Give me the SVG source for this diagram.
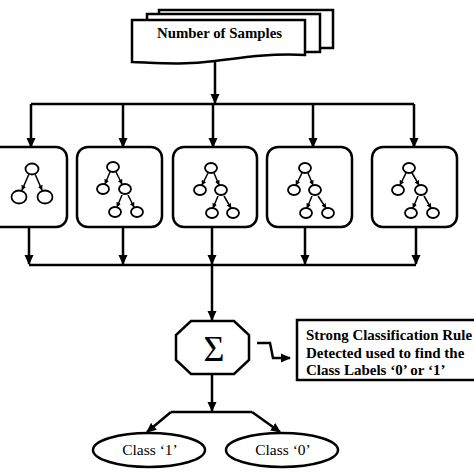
<svg xmlns="http://www.w3.org/2000/svg" width="474" height="474" viewBox="0 0 474 474">
<style>
.s{fill:none;stroke:#000;stroke-width:2.5}
.b{fill:#fff;stroke:#000;stroke-width:2.5}
.n{fill:#fff;stroke:#000;stroke-width:1.8}
.e{fill:none;stroke:#000;stroke-width:1.5}
.t{font-family:"Liberation Serif","Times New Roman",serif;fill:#000}
</style>
<defs>
<marker id="a" markerUnits="userSpaceOnUse" markerWidth="10" markerHeight="10" refX="9" refY="5" orient="auto"><path d="M0,0.5 L10,5 L0,9.5 Z" fill="#000"/></marker>
<marker id="m" markerUnits="userSpaceOnUse" markerWidth="5" markerHeight="5" refX="4.5" refY="2.5" orient="auto"><path d="M0,0 L5,2.5 L0,5 Z" fill="#000"/></marker>
</defs>
<rect width="474" height="474" fill="#fff"/>
<g id="samples">
<path class="b" d="M159,10 H333 V48 H159 Z"/>
<path class="b" d="M147,14 H320 V52 H147 Z"/>
<path class="b" d="M132,20 H305 V55 C275,53 245,57 215,61 C185,65 160,63 132,62 Z"/>
<text class="t" x="157" y="38" font-size="15" font-weight="bold" textLength="125" lengthAdjust="spacingAndGlyphs">Number of Samples</text>
</g>
<g id="connectors">
<path class="s" d="M215,61 V103" marker-end="url(#a)"/>
<path class="s" d="M31,104 H414"/>
<path class="s" d="M31,104 V147" marker-end="url(#a)"/>
<path class="s" d="M123,104 V147" marker-end="url(#a)"/>
<path class="s" d="M213,104 V147" marker-end="url(#a)"/>
<path class="s" d="M313,104 V147" marker-end="url(#a)"/>
<path class="s" d="M414,104 V147" marker-end="url(#a)"/>
<path class="s" d="M29,227 V264" marker-end="url(#a)"/>
<path class="s" d="M123,227 V264" marker-end="url(#a)"/>
<path class="s" d="M212,227 V264" marker-end="url(#a)"/>
<path class="s" d="M305,227 V264" marker-end="url(#a)"/>
<path class="s" d="M416,227 V264" marker-end="url(#a)"/>
<path class="s" d="M29,265 H416"/>
<path class="s" d="M212,265 V320" marker-end="url(#a)"/>
<path class="s" d="M212,374 V411" marker-end="url(#a)"/>
<path class="s" d="M171,412 H252"/>
<path class="s" d="M171,412 L147,432" marker-end="url(#a)"/>
<path class="s" d="M252,412 L280,432" marker-end="url(#a)"/>
<path class="s" d="M257,343 H270 L273,358 H290" marker-end="url(#a)"/>
</g>
<g id="tree1">
<rect class="b" x="-18" y="147" width="85" height="80" rx="11"/>
<path class="e" d="M29,174 L22,190" marker-end="url(#m)"/>
<path class="e" d="M35,174 L42,190" marker-end="url(#m)"/>
<ellipse class="n" cx="32" cy="169" rx="6.5" ry="5.5"/>
<ellipse class="n" cx="19" cy="197" rx="7.5" ry="6.5"/>
<ellipse class="n" cx="45" cy="197" rx="7.5" ry="6.5"/>
</g>
<g id="tree2">
<rect class="b" x="77" y="147" width="85" height="80" rx="11"/>
<path class="e" d="M110,172 L105,184" marker-end="url(#m)"/>
<path class="e" d="M116,172 L122,184" marker-end="url(#m)"/>
<path class="e" d="M122,195 L117,207" marker-end="url(#m)"/>
<path class="e" d="M128,195 L134,207" marker-end="url(#m)"/>
<ellipse class="n" cx="113" cy="167" rx="6" ry="5"/>
<ellipse class="n" cx="103" cy="189" rx="6" ry="5"/>
<ellipse class="n" cx="125" cy="189" rx="6" ry="5"/>
<ellipse class="n" cx="115" cy="212" rx="6" ry="5"/>
<ellipse class="n" cx="137" cy="212" rx="6" ry="5"/>
</g>
<g id="tree3">
<rect class="b" x="173" y="147" width="84" height="80" rx="11"/>
<path class="e" d="M208,173 L202,185" marker-end="url(#m)"/>
<path class="e" d="M214,173 L219,185" marker-end="url(#m)"/>
<path class="e" d="M218,196 L213,208" marker-end="url(#m)"/>
<path class="e" d="M224,196 L231,208" marker-end="url(#m)"/>
<ellipse class="n" cx="211" cy="168" rx="6" ry="5"/>
<ellipse class="n" cx="200" cy="190" rx="6" ry="5"/>
<ellipse class="n" cx="221" cy="190" rx="6" ry="5"/>
<ellipse class="n" cx="212" cy="213" rx="6" ry="5"/>
<ellipse class="n" cx="233" cy="213" rx="6" ry="5"/>
</g>
<g id="tree4">
<rect class="b" x="267" y="147" width="85" height="80" rx="11"/>
<path class="e" d="M302,173 L296,185" marker-end="url(#m)"/>
<path class="e" d="M308,173 L313,185" marker-end="url(#m)"/>
<path class="e" d="M312,196 L307,208" marker-end="url(#m)"/>
<path class="e" d="M318,196 L326,208" marker-end="url(#m)"/>
<ellipse class="n" cx="305" cy="168" rx="6" ry="5"/>
<ellipse class="n" cx="294" cy="190" rx="6" ry="5"/>
<ellipse class="n" cx="315" cy="190" rx="6" ry="5"/>
<ellipse class="n" cx="306" cy="213" rx="6" ry="5"/>
<ellipse class="n" cx="328" cy="213" rx="6" ry="5"/>
</g>
<g id="tree5">
<rect class="b" x="372" y="147" width="85" height="80" rx="11"/>
<path class="e" d="M406,173 L400,185" marker-end="url(#m)"/>
<path class="e" d="M412,173 L419,185" marker-end="url(#m)"/>
<path class="e" d="M418,196 L413,208" marker-end="url(#m)"/>
<path class="e" d="M424,196 L431,208" marker-end="url(#m)"/>
<ellipse class="n" cx="409" cy="168" rx="6" ry="5"/>
<ellipse class="n" cx="398" cy="190" rx="6" ry="5"/>
<ellipse class="n" cx="421" cy="190" rx="6" ry="5"/>
<ellipse class="n" cx="411" cy="213" rx="6" ry="5"/>
<ellipse class="n" cx="433" cy="213" rx="6" ry="5"/>
</g>
<g id="sum">
<path class="b" d="M191,321 H234 L249,335 V360 L234,374 H191 L176,360 V335 Z"/>
<text class="t" x="214" y="361" font-size="36" text-anchor="middle">Σ</text>
</g>
<g id="rule">
<rect class="b" x="297" y="320" width="185" height="60"/>
<text class="t" font-size="15" font-weight="bold"><tspan x="306" y="340" textLength="166" lengthAdjust="spacingAndGlyphs">Strong Classification Rule</tspan><tspan x="306" y="357.5">Detected used to find the</tspan><tspan x="306" y="375">Class Labels ‘0’ or ‘1’</tspan></text>
</g>
<g id="class1">
<ellipse class="b" cx="149" cy="450" rx="56" ry="17"/>
<text class="t" x="150" y="455" font-size="15.5" text-anchor="middle">Class ‘1’</text>
</g>
<g id="class0">
<ellipse class="b" cx="282" cy="450" rx="56" ry="17"/>
<text class="t" x="283" y="455" font-size="15.5" text-anchor="middle">Class ‘0’</text>
</g>
</svg>
